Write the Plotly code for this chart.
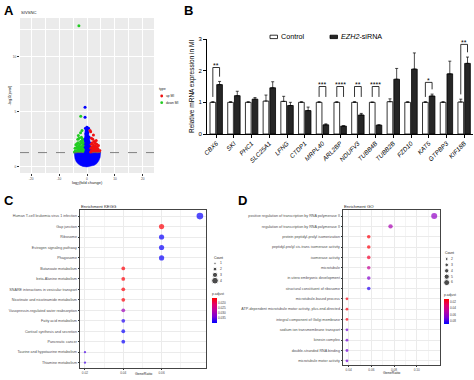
import math
import plotly.graph_objects as go

W, H = 474, 380
def px(x): return x / W
def py(y): return 1 - y / H

FONT = "Liberation Sans, Arial, sans-serif"

# ---------------- Panel A : volcano ----------------
blob_x = [-4.6, -4.5, -4.3, -3.9, -3.3, -2.5, -1.5, 0.0, 1.5, 2.6, 3.5, 4.2, 4.7, 4.95, 4.9,
          1.7, 1.2, 1.0, 0.6, 0.5, -0.2, -0.7, -0.8, -1.2, -1.5, -2.0, -4.6]
blob_y = [1.30, 1.00, 0.75, 0.50, 0.30, 0.15, 0.05, 0.00, 0.05, 0.15, 0.30, 0.55, 0.85, 1.20, 1.35,
          1.60, 2.00, 2.50, 3.00, 3.60, 3.70, 3.40, 2.80, 2.20, 1.70, 1.40, 1.30]
ns_x = [-0.7, -0.7, -0.55, 0.55, 0.0, 0.3, -0.4, 0.8, -0.9, 0.9, -1.1, 1.2]
ns_y = [5.4, 4.5, 3.5, 3.5, 3.6, 3.1, 3.0, 2.7, 2.5, 2.2, 2.0, 1.8]
down_x = [-4.5, -4.2, -3.9, -3.6, -3.3, -3.0, -2.7, -2.4, -2.1, -1.8, -1.5, -1.3,
          -4.3, -3.8, -3.4, -3.1, -2.8, -2.5, -2.2, -1.9, -1.6, -1.4,
          -4.0, -3.6, -3.2, -2.6, -2.3, -1.9, -1.6, -1.4,
          -3.3, -2.8, -2.0, -1.7, -3.1, -2.3, -1.8, -2.25, -2.9]
down_y = [1.35, 1.45, 1.38, 1.50, 1.42, 1.55, 1.40, 1.60, 1.45, 1.50, 1.40, 1.55,
          1.70, 1.75, 1.85, 1.70, 1.90, 1.80, 1.75, 1.85, 1.70, 1.95,
          2.00, 2.10, 2.20, 2.05, 2.30, 2.15, 2.40, 2.20,
          2.50, 2.60, 2.70, 2.55, 2.85, 3.10, 3.30, 4.60, 12.8]
up_x = [1.3, 1.6, 1.9, 2.2, 2.5, 2.8, 3.1, 3.4, 3.7, 4.0, 4.3, 4.6,
        1.4, 1.8, 2.1, 2.4, 2.7, 3.0, 3.3, 3.6, 3.9,
        1.5, 1.9, 2.3, 2.6, 3.0, 3.5, 4.1, 1.6, 2.1, 3.3, 2.3, 1.3, 1.1]
up_y = [1.35, 1.45, 1.38, 1.50, 1.40, 1.55, 1.42, 1.50, 1.38, 1.45, 1.40, 1.50,
        1.70, 1.80, 1.65, 1.85, 1.75, 1.90, 1.70, 1.80, 1.65,
        2.05, 2.20, 2.00, 2.30, 2.15, 2.05, 1.95, 2.60, 2.50, 2.40, 2.90, 3.20, 3.30]
pval_cut = 0.05

# ---------------- Panel B : bars ----------------
genes = ["CBX6", "SKI", "PHC1", "SLC25A1", "LFNG", "CTDP1", "MRPL40", "ARL2BP", "NDUFV3",
         "TUBB4B", "TUBB2B", "FZD10", "KAT5", "GTPBP3", "KIF18B"]
ctrl_mean = [1.00, 1.00, 1.00, 1.04, 1.03, 1.00, 1.00, 1.00, 1.00, 1.00, 1.02, 1.00, 1.00, 1.00, 1.01]
ctrl_err = [0.02, 0.02, 0.02, 0.19, 0.16, 0.02, 0.02, 0.02, 0.02, 0.01, 0.09, 0.02, 0.02, 0.02, 0.09]
sirna_mean = [1.56, 1.21, 1.10, 1.46, 0.90, 0.74, 0.29, 0.25, 0.60, 0.28, 1.73, 2.05, 1.20, 1.90, 2.23]
sirna_err = [0.10, 0.14, 0.05, 0.19, 0.10, 0.11, 0.03, 0.01, 0.05, 0.01, 0.34, 0.51, 0.06, 0.40, 0.20]
sig_genes = ["CBX6", "MRPL40", "ARL2BP", "NDUFV3", "TUBB4B", "KAT5", "KIF18B"]
sig_labels = ["**", "***", "****", "**", "****", "*", "**"]
sig_height = [2.10, 1.50, 1.50, 1.50, 1.50, 1.63, 2.83]

# ---------------- Panel C : KEGG ----------------
kegg_terms = ["Human T-cell leukemia virus 1 infection", "Gap junction", "Ribosome",
              "Estrogen signaling pathway", "Phagosome", "Butanoate metabolism",
              "beta-Alanine metabolism", "SNARE interactions in vesicular transport",
              "Nicotinate and nicotinamide metabolism", "Vasopressin-regulated water reabsorption",
              "Fatty acid metabolism", "Cortisol synthesis and secretion", "Pancreatic cancer",
              "Taurine and hypotaurine metabolism", "Thiamine metabolism"]
kegg_ratio = [0.080, 0.060, 0.060, 0.060, 0.060, 0.040, 0.040, 0.040, 0.040, 0.040,
              0.040, 0.040, 0.040, 0.020, 0.020]
kegg_count = [4, 3, 3, 3, 3, 2, 2, 2, 2, 2, 2, 2, 2, 1, 1]
kegg_padj = [0.039, 0.016, 0.039, 0.039, 0.039, 0.016, 0.016, 0.016, 0.016, 0.030,
             0.038, 0.039, 0.039, 0.036, 0.036]
kegg_cticks = [0.020, 0.025, 0.030, 0.035]

# ---------------- Panel D : GO ----------------
go_terms = ["positive regulation of transcription by RNA polymerase II",
            "regulation of transcription by RNA polymerase II",
            "protein peptidyl-prolyl isomerization", "peptidyl-prolyl cis-trans isomerase activity",
            "isomerase activity", "microtubule", "in utero embryonic development",
            "structural constituent of ribosome", "microtubule-based process",
            "ATP-dependent microtubule motor activity, plus-end-directed",
            "integral component of Golgi membrane", "sodium ion transmembrane transport",
            "kinesin complex", "double-stranded RNA binding", "microtubule motor activity"]
go_ratio = [0.1154, 0.0769, 0.0577, 0.0577, 0.0577, 0.0577, 0.0577, 0.0577,
            0.0385, 0.0385, 0.0385, 0.0385, 0.0385, 0.0385, 0.0385]
go_count = [6, 4, 3, 3, 3, 3, 3, 3, 2, 2, 2, 2, 2, 2, 2]
go_padj = [0.062, 0.055, 0.014, 0.014, 0.020, 0.045, 0.066, 0.082, 0.015, 0.015, 0.016,
           0.070, 0.070, 0.070, 0.070]
go_cticks = [0.02, 0.04, 0.06, 0.08]

# colour ramp red (low p) -> blue (high p), applied to -p so the bar shows red on top
RAMP = [[0, "#0000FF"], [0.25, "#7A00D6"], [0.5, "#B800A4"], [0.75, "#E20068"], [1, "#FF0000"]]

def kegg_size(c): return 2.3 + (c - 1) * 1.45
def go_size(c): return 1.2 + 0.8 * c

fig = go.Figure()

# ---- A traces
fig.add_trace(go.Scatter(x=blob_x, y=blob_y, mode="lines", fill="toself", fillcolor="#0000FF",
                         line=dict(width=0.5, color="#0000FF"), xaxis="x", yaxis="y",
                         showlegend=False, hoverinfo="skip"))
fig.add_trace(go.Scatter(x=ns_x, y=ns_y, mode="markers", marker=dict(size=3, color="#0000FF"),
                         xaxis="x", yaxis="y", showlegend=False))
fig.add_trace(go.Scatter(x=down_x, y=down_y, mode="markers", marker=dict(size=3, color="#22CC22"),
                         xaxis="x", yaxis="y", showlegend=False))
fig.add_trace(go.Scatter(x=up_x, y=up_y, mode="markers", marker=dict(size=3, color="#EE1111"),
                         xaxis="x", yaxis="y", showlegend=False))

# ---- B traces
idx = list(range(len(genes)))
fig.add_trace(go.Bar(x=idx, y=ctrl_mean, width=0.32, offset=-0.35, xaxis="x2", yaxis="y2",
                     marker=dict(color="white", line=dict(color="black", width=0.8)),
                     error_y=dict(type="data", symmetric=False, array=ctrl_err,
                                  arrayminus=[0] * len(genes), color="black", thickness=0.7, width=1.5),
                     showlegend=False))
fig.add_trace(go.Bar(x=idx, y=sirna_mean, width=0.32, offset=0.03, xaxis="x2", yaxis="y2",
                     marker=dict(color="#262626", line=dict(color="black", width=0.8)),
                     error_y=dict(type="data", symmetric=False, array=sirna_err,
                                  arrayminus=[0] * len(genes), color="black", thickness=0.7, width=1.5),
                     showlegend=False))
bx, by = [], []
for g, h in zip(sig_genes, sig_height):
    i = genes.index(g)
    left = max(ctrl_mean[i] + ctrl_err[i], 1.02) + 0.15
    right = max(sirna_mean[i] + sirna_err[i], 1.02) + 0.15
    xl, xr = i - 0.19, i + 0.19
    bx += [xl, xl, xr, xr, None]
    by += [left, h, h, right, None]
fig.add_trace(go.Scatter(x=bx, y=by, mode="lines", line=dict(color="black", width=0.8),
                         xaxis="x2", yaxis="y2", showlegend=False, cliponaxis=False))

# ---- C traces
fig.add_trace(go.Scatter(x=kegg_ratio, y=list(range(len(kegg_terms))), mode="markers",
                         marker=dict(size=[kegg_size(c) for c in kegg_count],
                                     color=[-p for p in kegg_padj], coloraxis="coloraxis",
                                     line=dict(width=0)),
                         xaxis="x3", yaxis="y3", showlegend=False))
kegg_levels = sorted(set(kegg_count))
fig.add_trace(go.Scatter(x=[10] * len(kegg_levels), y=kegg_levels, mode="markers",
                         marker=dict(size=[kegg_size(c) for c in kegg_levels], color="black"),
                         xaxis="x5", yaxis="y5", showlegend=False))
fig.add_trace(go.Scatter(x=[15] * len(kegg_levels), y=kegg_levels, mode="text",
                         text=[str(c) for c in kegg_levels], textposition="middle right",
                         textfont=dict(size=3.3, color="#333"),
                         xaxis="x5", yaxis="y5", showlegend=False))

# ---- D traces
fig.add_trace(go.Scatter(x=go_ratio, y=list(range(len(go_terms))), mode="markers",
                         marker=dict(size=[go_size(c) for c in go_count],
                                     color=[-p for p in go_padj], coloraxis="coloraxis2",
                                     line=dict(width=0)),
                         xaxis="x4", yaxis="y4", showlegend=False))
go_levels = sorted(set(go_count) | {5})
fig.add_trace(go.Scatter(x=[6.7] * len(go_levels), y=go_levels, mode="markers",
                         marker=dict(size=[go_size(c) for c in go_levels], color="black"),
                         xaxis="x6", yaxis="y6", showlegend=False))
fig.add_trace(go.Scatter(x=[11] * len(go_levels), y=go_levels, mode="text",
                         text=[str(c) for c in go_levels], textposition="middle right",
                         textfont=dict(size=3.3, color="#333"),
                         xaxis="x6", yaxis="y6", showlegend=False))

small = dict(size=3.2, color="#4D4D4D", family=FONT)

def cb(x0, ytop, ticks, fmt):
    return dict(x=px(x0), xanchor="left", y=py(ytop), yanchor="top", len=34, lenmode="pixels",
                thickness=5, thicknessmode="pixels", outlinewidth=0, xpad=0, ypad=0, ticks="",
                tickvals=[-t for t in ticks], ticktext=[fmt % t for t in ticks],
                tickfont=dict(size=3, color="#333", family=FONT),
                title=dict(text="p.adjust", side="top", font=dict(size=3.4, color="#333", family=FONT)))

fig.update_layout(
    width=W, height=H, margin=dict(l=0, r=0, t=0, b=0, autoexpand=False),
    paper_bgcolor="white", plot_bgcolor="rgba(0,0,0,0)",
    font=dict(family=FONT, color="black"),
    barmode="overlay",
    xaxis=dict(domain=[px(20), px(154)], range=[-24, 24], anchor="y",
               tickvals=[-20, -10, 0, 10, 20], ticktext=["-20", "-10", "0", "10", "20"],
               ticks="outside", ticklen=2, tickcolor="#333", tickwidth=0.6, tickfont=small,
               showgrid=True, gridcolor="white", gridwidth=0.7, zeroline=False, showline=False,
               minor=dict(tickvals=[-15, -5, 5, 15], showgrid=True, gridcolor="white", gridwidth=0.35)),
    yaxis=dict(domain=[py(173), py(18)], range=[-0.55, 13.5], anchor="x",
               tickvals=[0, 5, 10], ticks="outside", ticklen=2, tickcolor="#333", tickwidth=0.6,
               tickfont=small, showgrid=True, gridcolor="white", gridwidth=0.7, zeroline=False,
               minor=dict(tickvals=[2.5, 7.5, 12.5], showgrid=True, gridcolor="white", gridwidth=0.35)),
    xaxis2=dict(domain=[px(207), px(473)], range=[-0.52, 14.5], anchor="y2",
                tickvals=idx, ticktext=["<i>%s</i>" % g for g in genes], tickangle=-45,
                ticks="outside", ticklen=2.5, tickcolor="black", tickwidth=0.8,
                tickfont=dict(size=6.3, color="black", family=FONT),
                showline=True, linecolor="black", linewidth=1, showgrid=False, zeroline=False),
    yaxis2=dict(domain=[py(134), py(39)], range=[0, 3], anchor="x2",
                tickvals=[0, 1, 2, 3], ticks="outside", ticklen=3, tickcolor="black", tickwidth=0.8,
                tickfont=dict(size=6, color="black", family=FONT),
                showline=True, linecolor="black", linewidth=1, showgrid=False, zeroline=False),
    xaxis3=dict(domain=[px(80), px(206)], range=[0.0174, 0.0832], anchor="y3",
                tickvals=[0.02, 0.04, 0.06], ticktext=["0.02", "0.04", "0.06"],
                ticks="outside", ticklen=1.5, tickcolor="#333", tickwidth=0.5, tickfont=small,
                showgrid=True, gridcolor="#EBEBEB", gridwidth=0.5, zeroline=False,
                showline=True, mirror=True, linecolor="#444", linewidth=0.6,
                minor=dict(tickvals=[0.03, 0.05, 0.07], showgrid=True, gridcolor="#F4F4F4", gridwidth=0.3)),
    yaxis3=dict(domain=[py(368), py(210)], range=[14.51, -0.58], anchor="x3",
                tickvals=list(range(len(kegg_terms))), ticktext=kegg_terms,
                ticks="outside", ticklen=1.5, tickcolor="#333", tickwidth=0.5,
                tickfont=dict(size=3.7, color="#4D4D4D", family=FONT),
                showgrid=True, gridcolor="#EBEBEB", gridwidth=0.5, zeroline=False,
                showline=True, mirror=True, linecolor="#444", linewidth=0.6),
    xaxis4=dict(domain=[px(343), px(440)], range=[0.035, 0.1205], anchor="y4",
                tickvals=[0.04, 0.06, 0.08, 0.10], ticktext=["0.04", "0.06", "0.08", "0.10"],
                ticks="outside", ticklen=1.5, tickcolor="#333", tickwidth=0.5, tickfont=small,
                showgrid=True, gridcolor="#EBEBEB", gridwidth=0.5, zeroline=False,
                showline=True, mirror=True, linecolor="#444", linewidth=0.6,
                minor=dict(tickvals=[0.05, 0.07, 0.09, 0.11], showgrid=True, gridcolor="#F4F4F4", gridwidth=0.3)),
    yaxis4=dict(domain=[py(365), py(210)], range=[14.4, -0.58], anchor="x4",
                tickvals=list(range(len(go_terms))), ticktext=go_terms,
                ticks="outside", ticklen=1.5, tickcolor="#333", tickwidth=0.5,
                tickfont=dict(size=3.7, color="#4D4D4D", family=FONT),
                showgrid=True, gridcolor="#EBEBEB", gridwidth=0.5, zeroline=False,
                showline=True, mirror=True, linecolor="#444", linewidth=0.6),
    xaxis5=dict(domain=[px(205), px(235)], range=[0, 30], anchor="y5", visible=False),
    yaxis5=dict(domain=[py(286), py(258)], range=[4.91, 0.086], anchor="x5", visible=False),
    xaxis6=dict(domain=[px(440), px(470)], range=[0, 30], anchor="y6", visible=False),
    yaxis6=dict(domain=[py(287), py(254)], range=[6.746, 1.153], anchor="x6", visible=False),
    coloraxis=dict(colorscale=RAMP, cmin=-0.0395, cmax=-0.0155,
                   colorbar=cb(212, 289, kegg_cticks, "%.3f")),
    coloraxis2=dict(colorscale=RAMP, cmin=-0.088, cmax=-0.012,
                    colorbar=cb(444, 290, go_cticks, "%.2f")),
)

shapes = [
    dict(type="rect", xref="x domain", yref="y domain", x0=0, x1=1, y0=0, y1=1,
         fillcolor="#EBEBEB", line=dict(width=0), layer="below"),
    dict(type="line", xref="x domain", yref="y", x0=0, x1=1,
         y0=-math.log10(pval_cut), y1=-math.log10(pval_cut),
         line=dict(color="#666", width=0.8, dash="dash")),
    dict(type="circle", xref="paper", yref="paper", x0=px(160.3), x1=px(163.1), y0=py(97.4), y1=py(94.6),
         fillcolor="#EE1111", line=dict(width=0)),
    dict(type="circle", xref="paper", yref="paper", x0=px(160.3), x1=px(163.1), y0=py(104.1), y1=py(101.3),
         fillcolor="#22CC22", line=dict(width=0)),
    dict(type="rect", xref="paper", yref="paper", x0=px(270), x1=px(277.5), y0=py(38.6), y1=py(35.2),
         fillcolor="white", line=dict(color="black", width=0.8)),
    dict(type="rect", xref="paper", yref="paper", x0=px(330), x1=px(337.5), y0=py(38.6), y1=py(35.2),
         fillcolor="#262626", line=dict(color="black", width=0.8)),
]
fig.update_layout(shapes=shapes)

def ann(x, y, text, size, xanchor="left", yanchor="middle", angle=0, color="black", **kw):
    return dict(x=px(x), y=py(y), xref="paper", yref="paper", text=text, showarrow=False,
                xanchor=xanchor, yanchor=yanchor, textangle=angle,
                font=dict(size=size, color=color, family=FONT), borderpad=0, **kw)

anns = [
    ann(3, 2, "<b>A</b>", 13, yanchor="top"),
    ann(183, 2, "<b>B</b>", 13, yanchor="top"),
    ann(3, 192, "<b>C</b>", 13, yanchor="top"),
    ann(237, 192, "<b>D</b>", 13, yanchor="top"),
    ann(20, 13, "SIVSNC", 4.2, color="#222"),
    ann(87, 182.5, "log<sub>2</sub>(fold change)", 4, xanchor="center", color="#222"),
    ann(10, 95.5, "-log<sub>10</sub>(pval)", 4, xanchor="center", angle=-90, color="#222"),
    ann(158, 89, "type", 3.6, color="#222"),
    ann(164.8, 96, "up MI", 3.3, color="#222"),
    ann(164.8, 102.7, "down MI", 3.3, color="#222"),
    ann(192, 87, "Relative mRNA expression in MI", 6.5, xanchor="center", angle=-90),
    ann(280, 37, "Control", 7.2),
    ann(340, 37, "<i>EZH2</i>-siRNA", 7.2),
    ann(80, 206, "Enrichment KEGG", 4.3, color="#222"),
    ann(143, 374, "GeneRatio", 3.6, xanchor="center", color="#222"),
    ann(213, 258, "Count", 3.4, color="#222"),
    ann(343, 206, "Enrichment GO", 4.3, color="#222"),
    ann(391.5, 372.5, "GeneRatio", 3.6, xanchor="center", color="#222"),
    ann(444, 253, "Count", 3.4, color="#222"),
]
for g, lab, h in zip(sig_genes, sig_labels, sig_height):
    anns.append(dict(x=genes.index(g), y=h, xref="x2", yref="y2", text=lab, showarrow=False,
                     xanchor="center", yanchor="bottom", yshift=-2.5, borderpad=0,
                     font=dict(size=7, color="black", family=FONT)))
fig.update_layout(annotations=anns)

fig.write_html("out.html", config={"displayModeBar": False},
               post_script="document.body.style.margin='0px';document.body.style.overflow='hidden';")
